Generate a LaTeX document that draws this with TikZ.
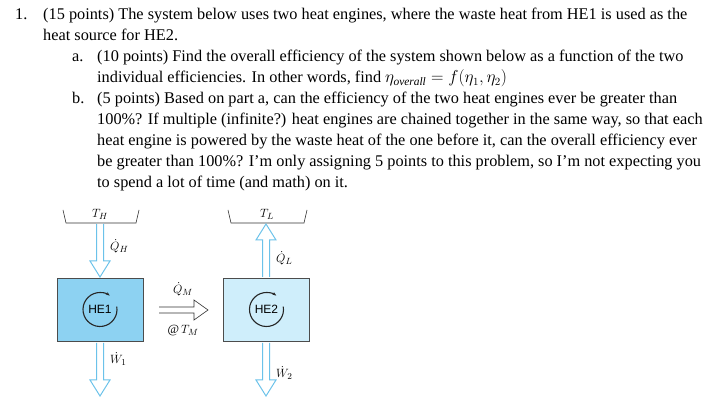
\documentclass[tikz,border=0pt]{standalone}
\usepackage{fontspec}
\setmainfont{Liberation Serif}
\newfontfamily\hsans{Liberation Sans}
\usetikzlibrary{arrows.meta}
\definecolor{he1c}{HTML}{8DD2F2}
\definecolor{he2c}{HTML}{CFEEFB}
\definecolor{arrc}{HTML}{6BC2EA}
\tikzset{
  txt/.style={anchor=base west,inner sep=0pt,font=\fontsize{16.3}{18}\selectfont},
  lbl/.style={inner sep=0pt,font=\fontsize{12.5}{14}\selectfont},
  engine/.style={draw=black!70,line width=0.6pt,minimum width=86pt,minimum height=63pt,inner sep=0pt},
  hollow/.style={draw=arrc,line width=1pt,fill=white,line join=miter},
  res/.style={draw=black!80,line width=0.6pt}
}
\newcommand{\hdownarr}[3]{% x, ytop, ybot
  \draw[hollow] (#1-3.5,#2) -- (#1-3.5,#3-16) -- (#1-10,#3-16) -- (#1,#3) -- (#1+10,#3-16) -- (#1+3.5,#3-16) -- (#1+3.5,#2);}
\newcommand{\huparr}[3]{% x, ybot, ytop
  \draw[hollow] (#1-3.5,#2) -- (#1-3.5,#3+16) -- (#1-10,#3+16) -- (#1,#3) -- (#1+10,#3+16) -- (#1+3.5,#3+16) -- (#1+3.5,#2);}
\begin{document}
\begin{tikzpicture}[x=1pt,y=-1pt]
\useasboundingbox[fill=white] (0,0) rectangle (724,403);
% text
\node[txt] (n1) at (15,20) {1.};
\node[txt] (l1) at (43,20) {(15 points) The system below uses two heat engines, where the waste heat from HE1 is used as the};
\node[txt] (l2) at (43,41) {heat source for HE2.};
\node[txt] (na) at (72,62) {a.};
\node[txt] (la1) at (97,62) {(10 points) Find the overall efficiency of the system shown below as a function of the two};
\node[txt] (la2) at (97,83) {individual efficiencies. In other words, find $\eta_{\mathit{overall}}=f(\eta_1,\eta_2)$};
\node[txt] (nb) at (72,104) {b.};
\node[txt] (lb1) at (97,104) {(5 points) Based on part a, can the efficiency of the two heat engines ever be greater than};
\node[txt] (lb2) at (97,125) {100\%? If multiple (infinite?) heat engines are chained together in the same way, so that each};
\node[txt] (lb3) at (97,146) {heat engine is powered by the waste heat of the one before it, can the overall efficiency ever};
\node[txt] (lb4) at (97,167) {be greater than 100\%? I'm only assigning 5 points to this problem, so I'm not expecting you};
\node[txt] (lb5) at (97,188) {to spend a lot of time (and math) on it.};
% reservoirs
\draw[res] (63,210) -- (66,223) -- (136,223) -- (139,210);
\node[lbl] (th) at (100,214) {$T_H$};
\draw[res] (228,210) -- (231,223) -- (304,223) -- (307,210);
\node[lbl] (tl) at (267,214) {$T_L$};
% engines
\node[engine,fill=he1c] (he1) at (100,309.5) {};
\node[engine,fill=he2c] (he2) at (266.5,309.5) {};
\foreach \e/\t in {he1/HE1,he2/HE2}{
  \node[inner sep=0pt,font=\hsans\fontsize{12}{14}\selectfont] (\e t) at (\e) {\t};
  \draw[line width=1.1pt,black!85,-{Stealth[length=4pt]}] (\e)+(-10:17) arc[start angle=-10,end angle=305,radius=17];
}
% heat flows
\hdownarr{100}{224}{277}
\node[lbl,anchor=west] (qh) at (110,246) {$\dot Q_H$};
\huparr{266}{277}{224}
\node[lbl,anchor=west] (ql) at (276,258) {$\dot Q_L$};
\hdownarr{100}{343}{396}
\node[lbl,anchor=west] (w1) at (110,359) {$\dot W_1$};
\hdownarr{266}{343}{396}
\node[lbl,anchor=west] (w2) at (276,373) {$\dot W_2$};
% QM arrow
\draw[black!80,line width=0.6pt,fill=white] (159,307) -- (194,307) -- (194,300) -- (208,310) -- (194,320) -- (194,313) -- (159,313);
\node[lbl] (qm) at (183,289) {$\dot Q_M$};
\node[lbl] (tm) at (183,331) {@\,$T_M$};
\end{tikzpicture}
\end{document}
